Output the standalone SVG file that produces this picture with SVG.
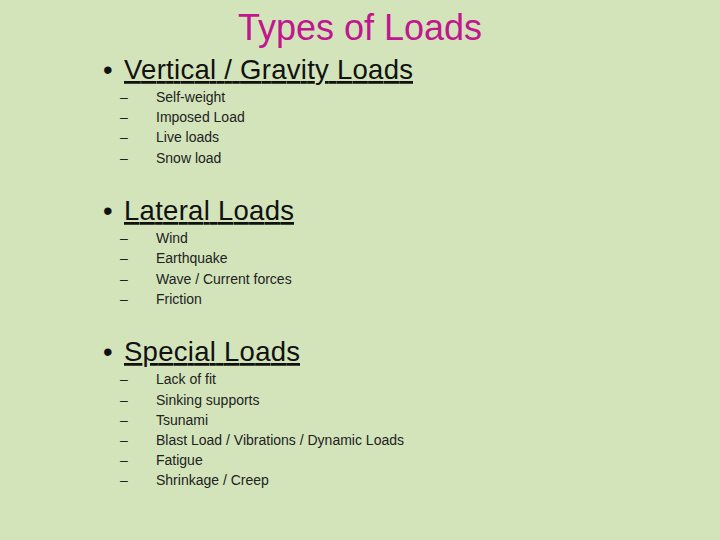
<svg xmlns="http://www.w3.org/2000/svg" width="720" height="540" viewBox="0 0 720 540">
<style>
text{font-family:"Liberation Sans",Arial,sans-serif;fill:#111}
.t{font-size:36px;fill:#c0168f}
.h{font-size:27.5px}
.u{text-decoration:underline}
.s{font-size:14px;fill:#222}
</style>
<rect width="720" height="540" fill="#d3e4bb"/>
<text class="t" x="360" y="40" text-anchor="middle">Types of Loads</text>
<g id="vertical">
<text class="h" x="103" y="79">•</text><text class="h u" x="124" y="79" textLength="289">Vertical / Gravity Loads</text>
<text class="s" x="120" y="102">–</text><text class="s" x="156" y="102">Self-weight</text>
<text class="s" x="120" y="122">–</text><text class="s" x="156" y="122">Imposed Load</text>
<text class="s" x="120" y="142">–</text><text class="s" x="156" y="142">Live loads</text>
<text class="s" x="120" y="163">–</text><text class="s" x="156" y="163">Snow load</text>
</g>
<g id="lateral">
<text class="h" x="103" y="220">•</text><text class="h u" x="124" y="220" textLength="170">Lateral Loads</text>
<text class="s" x="120" y="243">–</text><text class="s" x="156" y="243">Wind</text>
<text class="s" x="120" y="263">–</text><text class="s" x="156" y="263">Earthquake</text>
<text class="s" x="120" y="284">–</text><text class="s" x="156" y="284">Wave / Current forces</text>
<text class="s" x="120" y="304">–</text><text class="s" x="156" y="304">Friction</text>
</g>
<g id="special">
<text class="h" x="103" y="361">•</text><text class="h u" x="124" y="361" textLength="176">Special Loads</text>
<text class="s" x="120" y="384">–</text><text class="s" x="156" y="384">Lack of fit</text>
<text class="s" x="120" y="405">–</text><text class="s" x="156" y="405">Sinking supports</text>
<text class="s" x="120" y="425">–</text><text class="s" x="156" y="425">Tsunami</text>
<text class="s" x="120" y="445">–</text><text class="s" x="156" y="445">Blast Load / Vibrations / Dynamic Loads</text>
<text class="s" x="120" y="465">–</text><text class="s" x="156" y="465">Fatigue</text>
<text class="s" x="120" y="485">–</text><text class="s" x="156" y="485">Shrinkage / Creep</text>
</g>
</svg>
